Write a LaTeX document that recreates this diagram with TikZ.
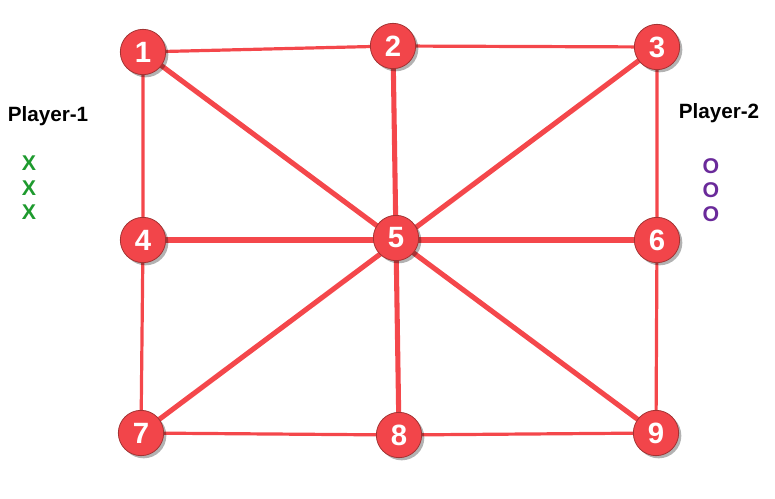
\documentclass[tikz,border=0pt]{standalone}
\usepackage{fontspec}
\setmainfont{Liberation Sans}
\usetikzlibrary{shadows,backgrounds}

\definecolor{boardred}{HTML}{F4474B}
\definecolor{spotred}{HTML}{F2454A}
\definecolor{xgreen}{HTML}{1E9A2E}
\definecolor{opurple}{HTML}{6A2A9A}

\begin{document}
\begin{tikzpicture}[
    x=0.75pt, y=-0.75pt,
    spot/.style={circle, draw=red!55!black!80, line width=0.6pt, fill=spotred, minimum size=34pt, inner sep=0pt,
                 text=white, font=\fontsize{22}{22}\selectfont\bfseries,
                 drop shadow={shadow xshift=2pt, shadow yshift=-2pt, opacity=0.3, fill=black}},
    thinline/.style={draw=boardred, line width=2.4pt},
    thickline/.style={draw=boardred, line width=3.8pt},
    player/.style={font=\fontsize{15.5}{15.5}\selectfont\bfseries},
    token/.style={font=\fontsize{16}{16}\selectfont\bfseries}
]
\useasboundingbox (0,0) rectangle (775,499);

% Board points
\node[spot] (p1) at (143,52) {1};
\node[spot] (p2) at (393,46) {2};
\node[spot] (p3) at (657,47) {3};
\node[spot] (p4) at (143,240) {4};
\node[spot] (p5) at (396,238) {5};
\node[spot] (p6) at (657,240) {6};
\node[spot] (p7) at (141,433) {7};
\node[spot] (p8) at (399,435) {8};
\node[spot] (p9) at (656,433) {9};

% Board lines (behind the points)
\begin{pgfonlayer}{background}
% outer frame
\draw[thinline] (p1.center) -- (p2.center) -- (p3.center) -- (p6.center) -- (p9.center) -- (p8.center) -- (p7.center) -- (p4.center) -- cycle;
% lines through the centre
\draw[thickline] (p1.center) -- (p9.center);
\draw[thickline] (p3.center) -- (p7.center);
\draw[thickline] (p2.center) -- (p8.center);
\draw[thickline] (p4.center) -- (p6.center);
\end{pgfonlayer}

% Players
\node[player] (pl1) at (48,116) {Player-1};
\node[token, text=xgreen] (x1) at (29,163) {X};
\node[token, text=xgreen] (x2) at (29,188) {X};
\node[token, text=xgreen] (x3) at (29,212) {X};

\node[player] (pl2) at (719,113) {Player-2};
\node[token, text=opurple] (o1) at (711,166) {O};
\node[token, text=opurple] (o2) at (711,190) {O};
\node[token, text=opurple] (o3) at (711,214) {O};

\end{tikzpicture}
\end{document}
